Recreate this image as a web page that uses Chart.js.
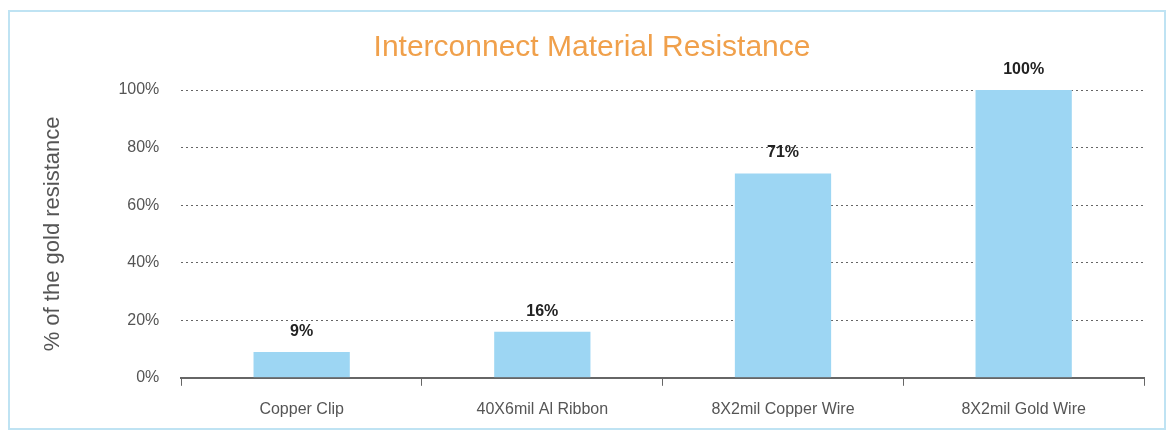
<!DOCTYPE html>
<html>
<head>
<meta charset="utf-8">
<script src="https://cdn.jsdelivr.net/npm/chart.js@4"></script>
<style>
  body { margin: 0; background: #fff; }
  #wrap { position: absolute; left: 8px; top: 10px; width: 1158px; height: 420px; border: 2px solid #bfe3f3; box-sizing: border-box; }
</style>
</head>
<body>
<div id="wrap"><canvas id="chart" width="1154" height="416"></canvas></div>
<script>
const categories = ['Copper Clip', '40X6mil Al Ribbon', '8X2mil Copper Wire', '8X2mil Gold Wire'];
const resistance = [9, 16, 71, 100];
const yTicks = [0, 20, 40, 60, 80, 100];

// draws the value above each bar
const valueLabels = {
  id: 'valueLabels',
  afterDatasetsDraw(chart) {
    const c = chart.ctx;
    const meta = chart.getDatasetMeta(0);
    c.save();
    c.font = 'bold 16px Arial, "Liberation Sans"';
    c.fillStyle = '#222';
    c.textAlign = 'center';
    meta.data.forEach((bar, i) => {
      c.fillText(resistance[i] + '%', bar.x, bar.y - 16);
    });
    c.restore();
  }
};

const ctx = document.getElementById('chart').getContext('2d');
new Chart(ctx, {
  type: 'bar',
  data: {
    labels: categories,
    datasets: [{
      data: resistance,
      backgroundColor: '#9dd6f3',
      categoryPercentage: 1.0,
      barPercentage: 0.4
    }]
  },
  options: {
    responsive: false,
    animation: false,
    layout: { padding: { left: 30, right: 20, top: 0, bottom: -5 } },
    plugins: {
      legend: { display: false },
      tooltip: { enabled: false },
      title: {
        display: true,
        text: 'Interconnect Material Resistance',
        color: '#f0a04b',
        font: { size: 30, family: 'Arial, "Liberation Sans"', weight: 'normal' },
        padding: { top: 18, bottom: 24 }
      }
    },
    scales: {
      x: {
        grid: { display: true, drawOnChartArea: false, offset: true, color: '#666', tickLength: 8 },
        border: { color: '#666', width: 2 },
        ticks: { color: '#555', font: { size: 16, family: 'Arial, "Liberation Sans"' }, padding: 14 }
      },
      y: {
        min: 0,
        max: 100,
        afterBuildTicks: axis => { axis.ticks = yTicks.map(v => ({ value: v })); },
        grid: { color: '#666', drawTicks: false },
        border: { display: false, dash: [2, 3] },
        ticks: { color: '#555', font: { size: 16, family: 'Arial, "Liberation Sans"' }, padding: 22, callback: v => v + '%' },
        title: { display: true, text: '% of the gold resistance', color: '#555', font: { size: 22, family: 'Arial, "Liberation Sans"' }, padding: { top: 0, bottom: 30 } }
      }
    }
  },
  plugins: [valueLabels]
});
</script>
</body>
</html>
